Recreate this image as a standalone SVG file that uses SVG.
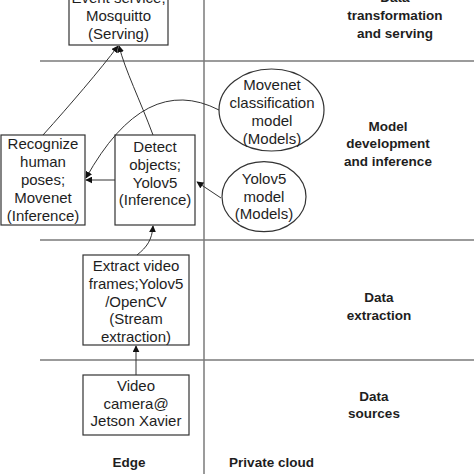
<svg xmlns="http://www.w3.org/2000/svg" width="474" height="474" viewBox="0 0 474 474">
<defs>
<style>
.t{font-family:"Liberation Sans",Arial,sans-serif;font-size:15px;fill:#1e1e1e;text-anchor:middle}
.b{font-family:"Liberation Sans",Arial,sans-serif;font-size:13.5px;font-weight:bold;fill:#1e1e1e;text-anchor:middle}
.box{fill:#fff;stroke:#333;stroke-width:1.2}
.grid{stroke:#7a7a7a;stroke-width:1.5;fill:none}
.c{stroke:#333;stroke-width:1;fill:none;marker-end:url(#ah)}
</style>
<marker id="ah" viewBox="0 0 10 10" refX="9" refY="5" markerWidth="7" markerHeight="7" markerUnits="userSpaceOnUse" orient="auto">
<path d="M0,0 L10,5 L0,10 z" fill="#111"/>
</marker>
</defs>
<rect width="474" height="474" fill="#fff"/>
<g id="grid">
<line class="grid" x1="204" y1="0" x2="204" y2="474"/>
<line class="grid" x1="40" y1="61" x2="474" y2="61"/>
<line class="grid" x1="40" y1="240" x2="474" y2="240"/>
<line class="grid" x1="40" y1="360" x2="474" y2="360"/>
</g>
<g id="labels">
<text class="b" x="395" y="2">Data</text>
<text class="b" x="395" y="20">transformation</text>
<text class="b" x="395" y="38">and serving</text>
<text class="b" x="388" y="130.5">Model</text>
<text class="b" x="388" y="148">development</text>
<text class="b" x="388" y="165.5">and inference</text>
<text class="b" x="379" y="302">Data</text>
<text class="b" x="379" y="320">extraction</text>
<text class="b" x="374" y="400.5">Data</text>
<text class="b" x="374" y="418">sources</text>
<text class="b" x="129" y="466.5">Edge</text>
<text class="b" x="271.5" y="466.5">Private cloud</text>
</g>
<g id="event">
<rect class="box" x="69" y="-15" width="99" height="60"/>
<text class="t" x="118.5" y="3">Event service;</text>
<text class="t" x="118.5" y="21">Mosquitto</text>
<text class="t" x="118.5" y="38.5">(Serving)</text>
</g>
<g id="recognize">
<rect class="box" x="1" y="135" width="84" height="90"/>
<text class="t" x="43" y="149">Recognize</text>
<text class="t" x="43" y="167">human</text>
<text class="t" x="43" y="185">poses;</text>
<text class="t" x="43" y="203">Movenet</text>
<text class="t" x="43" y="221">(Inference)</text>
</g>
<g id="detect">
<rect class="box" x="115" y="135" width="80" height="90"/>
<text class="t" x="155" y="152">Detect</text>
<text class="t" x="155" y="170">objects;</text>
<text class="t" x="155" y="187.5">Yolov5</text>
<text class="t" x="155" y="205">(Inference)</text>
</g>
<g id="extract">
<rect class="box" x="83" y="255" width="106" height="90"/>
<text class="t" x="136" y="271">Extract video</text>
<text class="t" x="136" y="288.5">frames;Yolov5</text>
<text class="t" x="136" y="306.5">/OpenCV</text>
<text class="t" x="136" y="324">(Stream</text>
<text class="t" x="136" y="341.5">extraction)</text>
</g>
<g id="camera">
<rect class="box" x="83" y="375" width="106" height="60"/>
<text class="t" x="136" y="391">Video</text>
<text class="t" x="136" y="408.5">camera@</text>
<text class="t" x="136" y="426">Jetson Xavier</text>
</g>
<g id="movenet-model">
<ellipse class="box" cx="271.5" cy="110" rx="52.5" ry="41"/>
<text class="t" x="272" y="90">Movenet</text>
<text class="t" x="272" y="108">classification</text>
<text class="t" x="272" y="126">model</text>
<text class="t" x="272" y="143.5">(Models)</text>
</g>
<g id="yolov5-model">
<ellipse class="box" cx="264" cy="196.7" rx="42" ry="35"/>
<text class="t" x="264" y="183.5">Yolov5</text>
<text class="t" x="264" y="201.5">model</text>
<text class="t" x="264" y="219">(Models)</text>
</g>
<g id="connectors">
<path class="c" d="M136,375 L136,346"/>
<path class="c" d="M137,255 C147,247 152,240 153,226"/>
<path class="c" d="M221,198 L197,182"/>
<path class="c" d="M115,180 L86,180"/>
<path class="c" d="M219,110 Q145,72 86,178"/>
<path class="c" d="M43,135 C70,105 100,70 118,46"/>
<path class="c" d="M153,135 C140,100 125,70 119,46"/>
</g>
</svg>
